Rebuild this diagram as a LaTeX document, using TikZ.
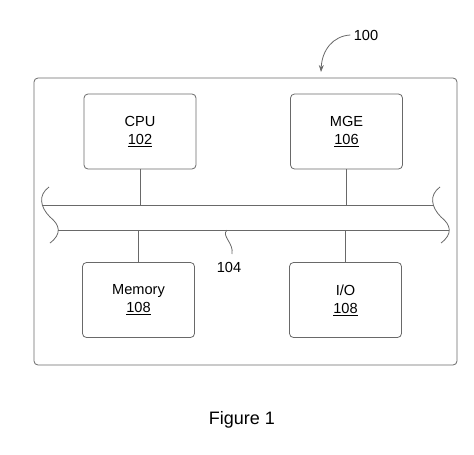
\documentclass[tikz,border=0pt]{standalone}
\usepackage{fontspec}
\setmainfont{Liberation Sans}
\usepackage{tikz}
\usetikzlibrary{arrows.meta,calc}
\definecolor{pat_line}{RGB}{105, 105, 105}
\tikzstyle{unit}=[rectangle,rounded corners=4pt,draw=pat_line,
  line width=0.8 pt,inner sep=0pt,minimum width=112pt,minimum height=75pt,
  align=center,font=\fontsize{14.6}{18}\selectfont]
\tikzstyle{wire}=[draw=pat_line,line width=0.8 pt]
\tikzstyle{ref}=[font=\fontsize{14.6}{18}\selectfont]
\tikzstyle{none}=[]

\begin{document}
\begin{tikzpicture}[x=1pt,y=-1pt]
            \useasboundingbox (0, 0) rectangle (474, 455);
            \draw [style=wire, rounded corners=4pt] (34, 78) rectangle (457, 365);
            \node [style=unit] (0) at (140, 131.5) {CPU\\\underline{102}};
            \node [style=unit] (1) at (346.5, 131.5) {MGE\\\underline{106}};
            \node [style=unit] (2) at (138.5, 300) {Memory\\\underline{108}};
            \node [style=unit] (3) at (345.5, 300) {I/O\\\underline{108}};
            \node [style=ref] (4) at (366, 35) {100};
            \node [style=ref] (5) at (229, 267) {104};
            \node [font=\fontsize{18}{22}\selectfont] (6) at (242, 420) {Figure 1};
            \coordinate (7) at (42.2, 205);
            \coordinate (8) at (433, 205);
            \coordinate (9) at (58.2, 230);
            \coordinate (10) at (449, 230);
            \coordinate (11) at (227, 230);
            \coordinate (12) at (321, 72);
            % bus 104
            \draw [style=wire] (7) -- (8);
            \draw [style=wire] (9) -- (10);
            \draw [style=wire] (49, 187) .. controls (38, 195) and (40, 207) .. (50, 217)
                .. controls (60, 225) and (62, 234) .. (50, 243);
            \draw [style=wire] (440, 187) .. controls (429, 195) and (431, 207) .. (441, 217)
                .. controls (451, 225) and (453, 234) .. (441, 243);
            \draw [style=wire] (0.south) -- (0.south |- 7);
            \draw [style=wire] (1.south) -- (1.south |- 7);
            \draw [style=wire] (2.north) -- (2.north |- 9);
            \draw [style=wire] (3.north) -- (3.north |- 9);
            % leaders
            \draw [style=wire] (11) .. controls (221, 236) and (234, 243) .. (232, 254);
            \draw [style=wire, -{Stealth[length=7pt,width=5pt]}] (4.west) .. controls (333, 36) and (322, 50) .. (12);
    \end{tikzpicture}
\end{document}
